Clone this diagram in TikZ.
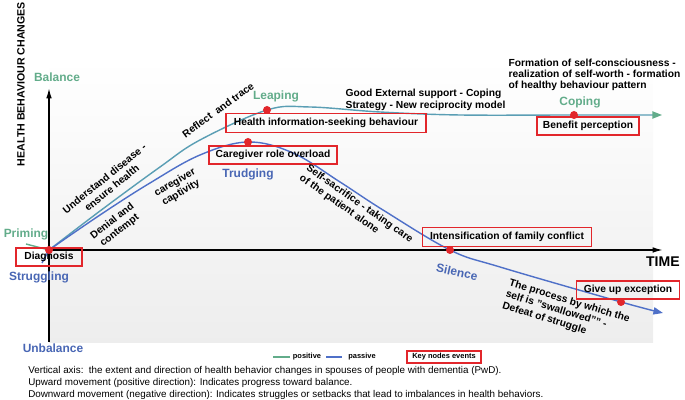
\documentclass[tikz,border=0pt]{standalone}
\usepackage{fontspec}
\setmainfont{Liberation Sans}
\usepackage{xcolor}
\usepackage{tikz}
\usetikzlibrary{arrows.meta}
\definecolor{hbGreen}{HTML}{62AC8A}
\definecolor{hbTeal}{HTML}{5A9EB4}
\definecolor{hbBlue}{HTML}{4F70C8}
\definecolor{hbBlueText}{HTML}{4866B4}
\definecolor{hbRed}{HTML}{E2262B}
\tikzset{
  axis line/.style={-{Latex[length=2.6mm,width=1.4mm]}, line width=1pt,
    draw=black},
  positive curve/.style={-{Triangle[length=2.4mm,width=1.8mm,color=hbGreen]},
    line width=1pt, draw=hbTeal},
  passive curve/.style={-{Triangle[length=2.4mm,width=1.8mm]},
    line width=1pt, draw=hbBlue},
  event box/.style={draw=hbRed, line width=0.8pt, inner sep=0pt,
    minimum height=4.5mm, font=\fontsize{7.3}{8.5}\selectfont\bfseries},
  event dot/.style={circle, fill=hbRed, minimum size=2mm, inner sep=0pt},
  positive phase/.style={font=\fontsize{8.5}{9.5}\selectfont\bfseries,
    text=hbGreen, inner sep=1pt},
  passive phase/.style={font=\fontsize{8.5}{9.5}\selectfont\bfseries,
    text=hbBlueText, inner sep=1pt},
  curve note/.style={font=\fontsize{7.3}{8.4}\selectfont\bfseries,
    align=center, inner sep=1pt},
  legend text/.style={font=\fontsize{5.3}{6}\selectfont\bfseries,
    inner sep=1pt},
  note text/.style={font=\fontsize{7}{8.8}\selectfont, align=left,
    inner sep=0pt}
}

\begin{document}
\begin{tikzpicture}
  \useasboundingbox (0,0) rectangle (17.125,10);
  \shade[top color=white, bottom color=black!7]
    (1.225,1.425) rectangle (16.325,8.5);

  \coordinate (origin) at (1.225,3.75);
  \coordinate (vtop) at (1.225,7.8);
  \coordinate (vbot) at (1.225,1.45);
  \coordinate (hend) at (16.575,3.75);
  \coordinate (ptail) at (0.65,3.9);
  \coordinate (ntail) at (1.05,3.425);
  \coordinate (tHeal) at (6.675,7.25);
  \coordinate (tCare) at (6.2,6.45);
  \coordinate (tBene) at (14.35,7.125);
  \coordinate (tConf) at (11.25,3.75);
  \coordinate (tGive) at (15.525,2.45);

  \draw[line width=1pt] (vbot) -- (origin);
  \draw[axis line] (origin) -- (vtop);
  \draw[axis line] (origin) -- (hend);

  \draw[line width=1pt, draw=hbGreen] (ptail) -- (origin);
  \draw[line width=1pt, draw=hbBlue] (ntail) -- (origin);
  \draw[positive curve] plot[smooth, tension=0.6] coordinates {
    (origin) (2.5,4.725) (4.0,5.825) (5.0,6.5) (tHeal) (7.75,7.325)
    (9.5,7.2) (11.5,7.125) (tBene) (16.55,7.125)};
  \draw[passive curve] plot[smooth, tension=0.6] coordinates {
    (origin) (2.5,4.625) (3.75,5.425) (5.0,6.125) (tCare) (7.325,6.175)
    (8.5,5.45) (9.575,4.75) (tConf) (12.5,3.325) (tGive) (16.575,2.175)};

  \node[font=\fontsize{7.55}{8.5}\selectfont\bfseries, rotate=90] (yaxis)
    at (0.525,7.9) {HEALTH BEHAVIOUR CHANGES};
  \node[font=\fontsize{10}{11}\selectfont\bfseries, anchor=east,
    inner sep=0pt] (time) at (17.0,3.45) {TIME};
  \node[positive phase] (balance) at (1.425,8.075) {Balance};
  \node[passive phase] (unbalance) at (1.325,1.3) {Unbalance};
  \node[positive phase] (priming) at (0.65,4.15) {Priming};
  \node[passive phase] (struggling) at (0.975,3.075) {Struggling};
  \node[positive phase] (leaping) at (6.9,7.6) {Leaping};
  \node[passive phase] (trudging) at (6.2,5.65) {Trudging};
  \node[positive phase] (coping) at (14.5,7.45) {Coping};
  \node[passive phase, rotate=-12] (silence) at (11.425,3.2) {Silence};

  \node[event box, minimum width=16.5mm] (diag) at (1.225,3.575) {Diagnosis};
  \node[event box, minimum width=50mm, minimum height=4.75mm] (heal)
    at (8.15,6.925) {Health information-seeking behaviour};
  \node[event box, minimum width=32mm] (care) at (6.825,6.125)
    {Caregiver role overload};
  \node[event box, minimum width=25.5mm] (bene) at (14.7,6.85)
    {Benefit perception};
  \node[event box, minimum width=42.25mm, minimum height=4.75mm] (conf)
    at (12.675,4.075) {Intensification of family conflict};
  \node[event box, minimum width=25.75mm] (give) at (15.7,2.75)
    {Give up exception};

  \node[event dot] (dDiag) at (origin) {};
  \node[event dot] (dHeal) at (tHeal) {};
  \node[event dot] (dCare) at (tCare) {};
  \node[event dot] (dBene) at (tBene) {};
  \node[event dot] (dConf) at (tConf) {};
  \node[event dot] (dGive) at (tGive) {};

  \node[curve note, rotate=39] (understand) at (2.7,5.42)
    {Understand disease -\\ensure health};
  \node[curve note, rotate=36] (reflect) at (5.45,7.25) {Reflect\ \ and trace};
  \node[curve note, rotate=38] (denial) at (2.9,4.35)
    {Denial and\\contempt};
  \node[curve note, rotate=30] (captivity) at (4.45,5.3)
    {caregiver\\captivity};
  \node[curve note, align=left, rotate=-35] (sacrifice) at (8.9,4.775)
    {Self-sacrifice - taking care\\of the patient alone};
  \node[curve note, align=left, rotate=-17] (swallow) at (14.15,2.18)
    {The process by which the\\self is "swallowed"" -\\Defeat of struggle};
  \node[curve note, align=left, anchor=west] (support) at (8.6,7.5)
    {Good External support - Coping\\Strategy - New reciprocity model};
  \node[curve note, align=left, anchor=west,
    font=\fontsize{7.3}{8}\selectfont\bfseries] (formation) at (12.675,8.125)
    {Formation of self-consciousness -\\realization of self-worth - formation\\of healthy behaviour pattern};

  \coordinate (lgA) at (6.825,1.075);
  \coordinate (lgB) at (7.25,1.075);
  \coordinate (lgC) at (8.15,1.075);
  \coordinate (lgD) at (8.55,1.075);
  \draw[line width=0.8pt, draw=hbGreen] (lgA) -- (lgB);
  \node[legend text] (lpos) at (7.675,1.075) {positive};
  \draw[line width=0.8pt, draw=hbBlue] (lgC) -- (lgD);
  \node[legend text] (lneg) at (9.05,1.075) {passive};
  \node[legend text, draw=hbRed, line width=0.8pt, minimum width=18.5mm,
    minimum height=3mm] (lkey) at (11.1,1.075) {Key nodes events};

  \node[note text, anchor=north west] (notes) at (0.7,0.86)
    {Vertical axis:\ \ the extent and direction of health behavior changes in spouses of people with dementia (PwD).\\
     Upward movement (positive direction): Indicates progress toward balance.\\
     Downward movement (negative direction): Indicates struggles or setbacks that lead to imbalances in health behaviors.};
\end{tikzpicture}
\end{document}
